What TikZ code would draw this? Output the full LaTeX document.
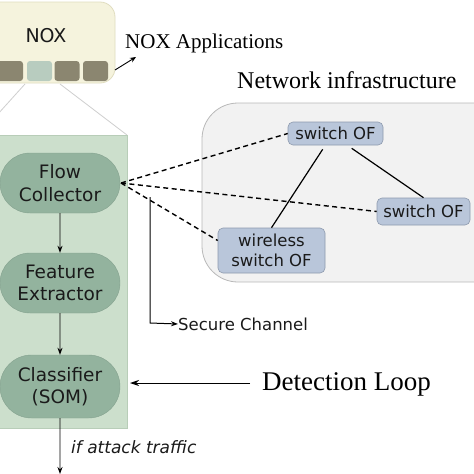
\documentclass[tikz,border=0pt]{standalone}
\usepackage{fontspec}
\setmainfont{Liberation Serif}
\setsansfont{DejaVu Sans}
\usetikzlibrary{shapes.misc,arrows.meta}
\definecolor{noxfill}{HTML}{F5F3DD}
\definecolor{noxdraw}{HTML}{E0DDC0}
\definecolor{appbox}{HTML}{8B8670}
\definecolor{appsel}{HTML}{B8CCBF}
\definecolor{panelfill}{HTML}{CCDFCC}
\definecolor{paneldraw}{HTML}{B8CDB8}
\definecolor{stadfill}{HTML}{93B39E}
\definecolor{netfill}{HTML}{F2F2F2}
\definecolor{netdraw}{HTML}{B9B9B9}
\definecolor{swfill}{HTML}{B9C6DA}
\definecolor{swdraw}{HTML}{8E9AAE}
\definecolor{trapline}{HTML}{CFCFCF}
\definecolor{inktext}{HTML}{1A1A1A}
\tikzset{
  stad/.style={rounded rectangle, fill=stadfill, draw=stadfill!90!black, line width=0.4pt,
    minimum width=120pt, minimum height=60pt, inner sep=0pt, align=center, text=inktext,
    font=\sffamily\fontsize{18.5}{22.5}\selectfont},
  swbox/.style={rectangle, rounded corners=5pt, fill=swfill, draw=swdraw, line width=0.6pt,
    inner sep=0pt, align=center, text=inktext, font=\sffamily\fontsize{16.5}{20}\selectfont},
  appsq/.style={rectangle, rounded corners=3pt, fill=appbox, minimum width=25pt, minimum height=20pt, inner sep=0pt},
  flowarr/.style={-{Stealth[length=7pt,width=5pt]}, line width=0.9pt},
  dashln/.style={dash pattern=on 5pt off 3.5pt, line width=1.4pt},
  solidln/.style={line width=1.2pt},
}
\begin{document}
\begin{tikzpicture}[x=1pt,y=-1pt]
\useasboundingbox (0,0) rectangle (474,474);
\clip (0,0) rectangle (474,474);
\fill[white] (0,0) rectangle (474,474);
% NOX box
\draw[fill=noxfill, draw=noxdraw, line width=0.8pt, rounded corners=15pt] (-20,2) rectangle (115,83);
\node[font=\sffamily\fontsize{19}{22}\selectfont, text=inktext] (nox) at (46,36) {NOX};
\node[appsq, minimum width=27pt] (a1) at (9.5,71) {};
\node[appsq, fill=appsel] (a2) at (39.5,71) {};
\node[appsq] (a3) at (67,71) {};
\node[appsq] (a4) at (95.5,71) {};
% trapezoid
\draw[trapline, line width=0.8pt] (25,84) -- (-21,135);
\draw[trapline, line width=0.8pt] (60,84) -- (127,135);
% panel
\draw[fill=panelfill, draw=paneldraw, line width=0.8pt] (-21,135) rectangle (127.5,428);
% NOX applications
\node[anchor=west, font=\rmfamily\fontsize{21}{25}\selectfont, inner sep=0pt] (apps) at (125,43) {NOX Applications};
\coordinate (appsrc) at (115,70);
\coordinate (appdst) at (136,57);
\draw[-{Stealth[length=6pt,width=5pt]}, line width=0.9pt] (appsrc) -- (appdst);
% stages
\node[stad] (flow) at (60,183) {Flow\\Collector};
\node[stad] (feat) at (60,283) {Feature\\Extractor};
\node[stad, minimum height=63pt] (clas) at (60,386.5) {Classifier\\(SOM)};
\draw[flowarr] (flow) -- (feat);
\draw[flowarr] (feat) -- (clas);
\coordinate (outend) at (60,474);
\draw[flowarr] (clas) -- (outend);
\node[anchor=west, inner sep=0pt, text=inktext, font=\sffamily\itshape\fontsize{17}{20}\selectfont] (attack) at (71,447) {if attack traffic};
% network infra
\node[anchor=west, inner sep=0pt, font=\rmfamily\fontsize{24}{28}\selectfont] (netlabel) at (237,80) {Network infrastructure};
\draw[fill=netfill, draw=netdraw, line width=0.8pt, rounded corners=36pt] (202,103) rectangle (520,282);
\node[swbox, minimum width=95pt, minimum height=23pt] (sw1) at (335.5,133.5) {switch OF};
\node[swbox, minimum width=93pt, minimum height=27pt] (sw2) at (423.5,211.5) {switch OF};
\node[swbox, minimum width=107pt, minimum height=45pt] (sw3) at (271.5,250.5) {wireless\\switch OF};
\path (sw1.south west) ++(35,4) coordinate (s1a);
\path (sw1.south west) ++(64,3) coordinate (s1b);
\draw[solidln] (s1a) -- (sw3.north);
\draw[solidln] (s1b) -- (sw2.north);
% dashed links
\coordinate (fc) at (121,183);
\draw[dashln] (fc) -- (sw1.west);
\draw[dashln] (fc) -- (sw2.west);
\draw[dashln] (fc) -- ([yshift=10pt]sw3.west);
% secure channel
\node[anchor=west, inner sep=0pt, text=inktext, font=\sffamily\fontsize{16.5}{19}\selectfont] (secure) at (178,324) {Secure Channel};
\coordinate (sctop) at (150,197);
\coordinate (sccorner) at (150,323);
\draw[-{Stealth[length=7pt,width=5pt]}, line width=1pt] (sctop) -- (sccorner) -- (secure.west);
% detection loop
\node[anchor=west, inner sep=0pt, font=\rmfamily\fontsize{27}{31}\selectfont] (det) at (262,384) {Detection Loop};
\coordinate (detstart) at (250,383);
\coordinate (detend) at (130,383);
\draw[-{Stealth[length=9pt,width=6pt]}, line width=1pt] (detstart) -- (detend);
\end{tikzpicture}
\end{document}
